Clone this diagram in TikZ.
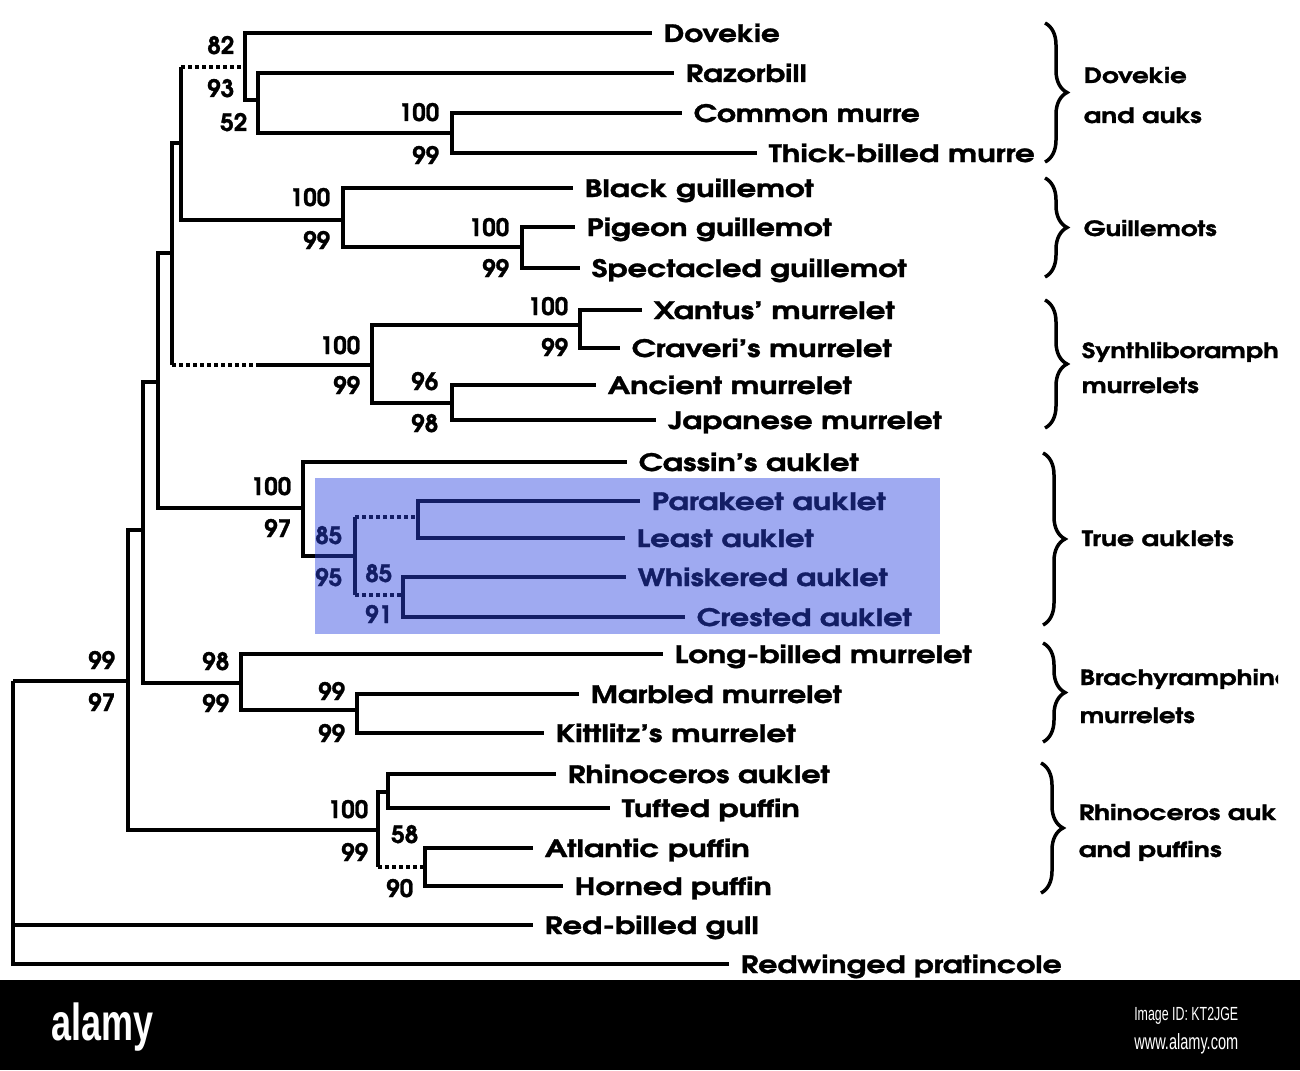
\documentclass[tikz,border=0pt]{standalone}
\usepackage{fontspec}
\setmainfont{TeX Gyre Adventor}[BoldFeatures={FakeBold=1.2}]
\newfontfamily\wmfont{Liberation Sans}
\usetikzlibrary{decorations.pathreplacing}
\definecolor{boxblue}{RGB}{44,67,225}
\newcommand\fw[2]{\resizebox{#1pt}{\height}{#2}}
\begin{document}
\begin{tikzpicture}[x=1pt,y=-1pt,line width=3.5pt,line join=miter,
  tip/.style={anchor=west,inner sep=0pt,text height=18pt,text depth=0pt,font=\bfseries\fontsize{24}{26}\selectfont},
  num/.style={anchor=east,inner sep=0pt,text height=18pt,text depth=0pt,font=\bfseries\fontsize{24}{26}\selectfont},
  grp/.style={anchor=west,inner sep=0pt,text height=16pt,text depth=0pt,font=\bfseries\fontsize{21}{23}\selectfont},
  dotl/.style={dash pattern=on 3.5pt off 3.5pt},
  grpbrace/.style={decorate,decoration={brace,amplitude=22pt},line width=3.5pt}]
\useasboundingbox (0,0) rectangle (1300,1070);
\fill[white] (0,0) rectangle (1300,1070);

% ---------- tip labels ----------
\node[tip] (dovekie)  at (662,33)  {\fw{116}{Dovekie}};
\node[tip] (razor)    at (684,73)  {\fw{121}{Razorbill}};
\node[tip] (common)   at (692,113) {\fw{226}{Common murre}};
\node[tip] (thick)    at (767,153) {\fw{266}{Thick-billed murre}};
\node[tip] (black)    at (583,188) {\fw{229}{Black guillemot}};
\node[tip] (pigeon)   at (585,227) {\fw{245}{Pigeon guillemot}};
\node[tip] (spect)    at (590,268) {\fw{315}{Spectacled guillemot}};
\node[tip] (xantus)   at (652,310) {\fw{241}{Xantus’ murrelet}};
\node[tip] (craveri)  at (630,348) {\fw{260}{Craveri’s murrelet}};
\node[tip] (ancient)  at (606,385) {\fw{244}{Ancient murrelet}};
\node[tip] (japanese) at (666,420) {\fw{274}{Japanese murrelet}};
\node[tip] (cassin)   at (637,462) {\fw{220}{Cassin’s auklet}};
\node[tip] (parakeet) at (650,501) {\fw{234}{Parakeet auklet}};
\node[tip] (least)    at (635,538) {\fw{177}{Least auklet}};
\node[tip] (whisk)    at (636,577) {\fw{250}{Whiskered auklet}};
\node[tip] (crested)  at (695,617) {\fw{215}{Crested auklet}};
\node[tip] (longb)    at (673,654) {\fw{297}{Long-billed murrelet}};
\node[tip] (marbled)  at (589,694) {\fw{251}{Marbled murrelet}};
\node[tip] (kittlitz) at (554,733) {\fw{240}{Kittlitz’s murrelet}};
\node[tip] (rhino)    at (566,774) {\fw{262}{Rhinoceros auklet}};
\node[tip] (tufted)   at (620,808) {\fw{178}{Tufted puffin}};
\node[tip] (atlantic) at (543,848) {\fw{205}{Atlantic puffin}};
\node[tip] (horned)   at (573,886) {\fw{197}{Horned puffin}};
\node[tip] (gull)     at (543,925) {\fw{214}{Red-billed gull}};
\node[tip] (prat)     at (739,964) {\fw{321}{Redwinged pratincole}};

% ---------- internal nodes ----------
\coordinate (root) at (13,681);
\coordinate (nAlc) at (128,681);
\coordinate (n143) at (143,530);
\coordinate (n158) at (158,382);
\coordinate (n172) at (172,253);
\coordinate (n181) at (181,143);
\coordinate (n245) at (245,67);
\coordinate (n258) at (258,100);
\coordinate (nMur) at (452,133);
\coordinate (nGui) at (343,220);
\coordinate (nPig) at (522,247);
\coordinate (nSyn) at (372,365);
\coordinate (synDot) at (260,365);
\coordinate (nXan) at (580,325);
\coordinate (nAnc) at (452,403);
\coordinate (nAuk) at (303,508);
\coordinate (n355) at (355,556);
\coordinate (nPar) at (418,517);
\coordinate (nWhi) at (403,595);
\coordinate (nBra) at (241,683);
\coordinate (nMar) at (357,710);
\coordinate (nPuf) at (378,830);
\coordinate (nRhi) at (388,792);
\coordinate (nAtl) at (425,867);

% ---------- branches ----------
\draw (root) |- (nAlc);
\draw (root) |- ([xshift=-10pt]gull.west);
\draw (root) |- ([xshift=-10pt]prat.west);
\draw (nAlc) |- (n143);
\draw (nAlc) |- (nPuf);
\draw (n143) |- (n158);
\draw (n143) |- (nBra);
\draw (n158) |- (n172);
\draw (n158) |- (nAuk);
\draw (n172) |- (n181);
\draw (n172) -- (n172 |- nSyn);
\draw[dotl] (n172 |- nSyn) -- (synDot);
\draw (synDot) -- (nSyn);
\draw (n181) -- (n181 |- n245);
\draw[dotl] (n181 |- n245) -- (n245);
\draw (n181) |- (nGui);
\draw (n245) |- ([xshift=-10pt]dovekie.west);
\draw (n245) |- (n258);
\draw (n258) |- ([xshift=-10pt]razor.west);
\draw (n258) |- (nMur);
\draw (nMur) |- ([xshift=-10pt]common.west);
\draw (nMur) |- ([xshift=-10pt]thick.west);
\draw (nGui) |- ([xshift=-10pt]black.west);
\draw (nGui) |- (nPig);
\draw (nPig) |- ([xshift=-10pt]pigeon.west);
\draw (nPig) |- ([xshift=-10pt]spect.west);
\draw (nSyn) |- (nXan);
\draw (nSyn) |- (nAnc);
\draw (nXan) |- ([xshift=-10pt]xantus.west);
\draw (nXan) |- ([xshift=-10pt]craveri.west);
\draw (nAnc) |- ([xshift=-10pt]ancient.west);
\draw (nAnc) |- ([xshift=-10pt]japanese.west);
\draw (nAuk) |- ([xshift=-10pt]cassin.west);
\draw (nAuk) |- (n355);
\draw (n355) -- (n355 |- nPar);
\draw[dotl] (n355 |- nPar) -- (nPar);
\draw (n355) -- (n355 |- nWhi);
\draw[dotl] (n355 |- nWhi) -- (nWhi);
\draw (nPar) |- ([xshift=-10pt]parakeet.west);
\draw (nPar) |- ([xshift=-10pt]least.west);
\draw (nWhi) |- ([xshift=-10pt]whisk.west);
\draw (nWhi) |- ([xshift=-10pt]crested.west);
\draw (nBra) |- ([xshift=-10pt]longb.west);
\draw (nBra) |- (nMar);
\draw (nMar) |- ([xshift=-10pt]marbled.west);
\draw (nMar) |- ([xshift=-10pt]kittlitz.west);
\draw (nPuf) |- (nRhi);
\draw (nPuf) -- (nPuf |- nAtl);
\draw[dotl] (nPuf |- nAtl) -- (nAtl);
\draw (nRhi) |- ([xshift=-10pt]rhino.west);
\draw (nRhi) |- ([xshift=-10pt]tufted.west);
\draw (nAtl) |- ([xshift=-10pt]atlantic.west);
\draw (nAtl) |- ([xshift=-10pt]horned.west);

% ---------- support values ----------
\node[num] (s1)  at (236,45)  {82};
\node[num] (s2)  at (236,88)  {93};
\node[num] (s3)  at (249,122) {52};
\node[num] (s4)  at (441,112) {100};
\node[num] (s5)  at (441,155) {99};
\node[num] (s6)  at (332,197) {100};
\node[num] (s7)  at (332,240) {99};
\node[num] (s8)  at (511,227) {100};
\node[num] (s9)  at (511,268) {99};
\node[num] (s10) at (570,306) {100};
\node[num] (s11) at (570,347) {99};
\node[num] (s12) at (362,345) {100};
\node[num] (s13) at (362,385) {99};
\node[num] (s14) at (440,381) {96};
\node[num] (s15) at (440,423) {98};
\node[num] (s16) at (293,486) {100};
\node[num] (s17) at (293,528) {97};
\node[num] (s18) at (344,535) {85};
\node[num] (s19) at (344,577) {95};
\node[num] (s20) at (394,573) {85};
\node[num] (s21) at (394,614) {91};
\node[num] (s22) at (117,660) {99};
\node[num] (s23) at (117,702) {97};
\node[num] (s24) at (231,661) {98};
\node[num] (s25) at (231,703) {99};
\node[num] (s26) at (347,691) {99};
\node[num] (s27) at (347,733) {99};
\node[num] (s28) at (370,809) {100};
\node[num] (s29) at (370,852) {99};
\node[num] (s30) at (420,834) {58};
\node[num] (s31) at (415,888) {90};

% ---------- highlight box ----------
\fill[boxblue,fill opacity=0.45] (315,478) rectangle (940,634);

% ---------- group braces and labels ----------
\draw[grpbrace] (1045,23) -- (1045,162);
\draw[grpbrace] (1045,178) -- (1045,277);
\draw[grpbrace] (1045,300) -- (1045,428);
\draw[grpbrace] (1043,453) -- (1043,625);
\draw[grpbrace] (1043,643) -- (1043,742);
\draw[grpbrace] (1041,763) -- (1041,893);
\node[grp] (g1a) at (1082,75)  {\fw{103}{Dovekie}};
\node[grp] (g1b) at (1082,115) {\fw{118}{and auks}};
\node[grp] (g2)  at (1082,228) {\fw{133}{Guillemots}};
\node[grp] (g3a) at (1080,350) {\fw{197}{Synthliboramph}};
\node[grp] (g3b) at (1080,385) {\fw{117}{murrelets}};
\node[grp] (g4)  at (1080,538) {\fw{152}{True auklets}};
\begin{scope}
\clip (1000,600) rectangle (1278,760);
\node[grp] (g5a) at (1078,677) {\fw{212}{Brachyramphine}};
\end{scope}
\node[grp] (g5b) at (1078,715) {\fw{115}{murrelets}};
\node[grp] (g6a) at (1077,812) {\fw{198}{Rhinoceros auk}};
\node[grp] (g6b) at (1077,849) {\fw{143}{and puffins}};

% ---------- bottom bar ----------
\fill[black] (0,980) rectangle (1300,1070);
\node[anchor=base west,inner sep=0pt,text=white] (logo) at (50,1040)
  {\fw{102}{\wmfont\bfseries\fontsize{52}{52}\selectfont alamy}};
\node[anchor=base east,inner sep=0pt,text=white] (imgid) at (1240,1020)
  {\fw{104}{\wmfont\fontsize{19}{19}\selectfont Image ID: KT2JGE}};
\node[anchor=base east,inner sep=0pt,text=white] (www) at (1240,1049)
  {\fw{104}{\wmfont\fontsize{22}{22}\selectfont www.alamy.com}};
\end{tikzpicture}
\end{document}
